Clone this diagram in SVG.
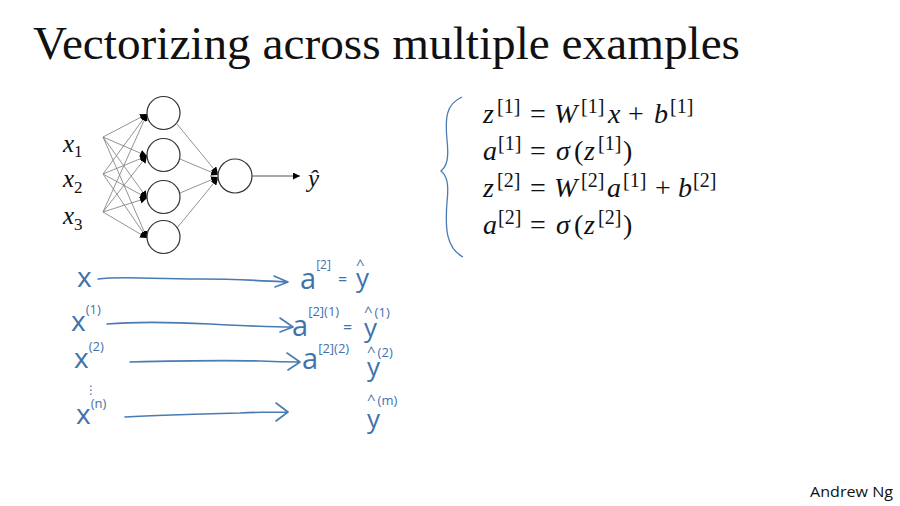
<svg xmlns="http://www.w3.org/2000/svg" width="900" height="506" viewBox="0 0 900 506">
<defs>
<marker id="ah" viewBox="0 0 10 10" refX="10" refY="5" markerWidth="7" markerHeight="7" orient="auto" markerUnits="userSpaceOnUse"><path d="M0,0 L10,5 L0,10 z" fill="#000"/></marker>
<style>
.title{font-family:"Liberation Serif",serif;font-size:46px;fill:#111}
.node{fill:#fff;stroke:#333;stroke-width:1.2}
.edge{stroke:#888;stroke-width:0.9;fill:none}
.math{font-family:"Liberation Serif","DejaVu Serif",serif;font-size:25px;fill:#111}
.eq{font-family:"Liberation Serif","DejaVu Serif",serif;font-size:28px;fill:#111}
.it{font-style:italic}
.sup{font-size:17px;font-style:normal}
.es{font-size:20px;font-style:normal}
.hand{font-family:"Open Sans","DejaVu Sans",sans-serif;fill:#3f73ad}
.hw{stroke:#4a7bb3;stroke-width:1.6;fill:none;stroke-linecap:round;stroke-linejoin:round}
.sig{font-family:"Open Sans","Liberation Sans",sans-serif;font-size:14px;fill:#111}
</style>
</defs>
<rect width="900" height="506" fill="#fff"/>
<text class="title" x="33" y="59" textLength="707" lengthAdjust="spacingAndGlyphs">Vectorizing across multiple examples</text>

<g id="connectors">
<line class="edge" x1="103" y1="137" x2="147" y2="114" marker-end="url(#ah)"/>
<line class="edge" x1="103" y1="137" x2="147" y2="156" marker-end="url(#ah)"/>
<line class="edge" x1="103" y1="137" x2="147" y2="198" marker-end="url(#ah)"/>
<line class="edge" x1="103" y1="137" x2="147" y2="238" marker-end="url(#ah)"/>
<line class="edge" x1="103" y1="174" x2="147" y2="114" marker-end="url(#ah)"/>
<line class="edge" x1="103" y1="174" x2="147" y2="156" marker-end="url(#ah)"/>
<line class="edge" x1="103" y1="174" x2="147" y2="198" marker-end="url(#ah)"/>
<line class="edge" x1="103" y1="174" x2="147" y2="238" marker-end="url(#ah)"/>
<line class="edge" x1="103" y1="212" x2="147" y2="114" marker-end="url(#ah)"/>
<line class="edge" x1="103" y1="212" x2="147" y2="156" marker-end="url(#ah)"/>
<line class="edge" x1="103" y1="212" x2="147" y2="198" marker-end="url(#ah)"/>
<line class="edge" x1="103" y1="212" x2="147" y2="238" marker-end="url(#ah)"/>
<line class="edge" x1="177" y1="124" x2="218" y2="174" marker-end="url(#ah)"/>
<line class="edge" x1="180" y1="159" x2="218" y2="175" marker-end="url(#ah)"/>
<line class="edge" x1="180" y1="193" x2="218" y2="177" marker-end="url(#ah)"/>
<line class="edge" x1="177" y1="228" x2="218" y2="178" marker-end="url(#ah)"/>
<line x1="252" y1="176" x2="300" y2="176" stroke="#555" stroke-width="1" marker-end="url(#ah)"/>
</g>

<g id="x1"><text class="math it" x="63" y="152">x<tspan class="sup" dy="5">1</tspan></text></g>
<g id="x2"><text class="math it" x="63" y="187">x<tspan class="sup" dy="6">2</tspan></text></g>
<g id="x3"><text class="math it" x="63" y="224">x<tspan class="sup" dy="6">3</tspan></text></g>
<g id="h1"><circle class="node" cx="163.5" cy="113" r="16.5"/></g>
<g id="h2"><circle class="node" cx="163.5" cy="155" r="16.5"/></g>
<g id="h3"><circle class="node" cx="163.5" cy="197" r="16.5"/></g>
<g id="h4"><circle class="node" cx="163.5" cy="237" r="16.5"/></g>
<g id="out"><circle class="node" cx="235" cy="176" r="17"/></g>
<g id="yhat"><text class="math it" x="308" y="187" font-size="26">ŷ</text></g>

<g id="equations">
<path d="M462,97 C446,104 445,118 447,140 C449,158 447,166 441,171 C447,176 449,184 447,202 C445,228 446,248 463,257" stroke="#4a7bb3" stroke-width="1.3" fill="none"/>
<text class="eq" y="123"><tspan class="it" x="483">z</tspan><tspan class="es" x="497" dy="-10">[1]</tspan><tspan x="530" dy="10">=</tspan><tspan class="it" x="554">W</tspan><tspan class="es" x="581" dy="-10">[1]</tspan><tspan class="it" x="608" dy="10">x</tspan><tspan x="628">+</tspan><tspan class="it" x="654">b</tspan><tspan class="es" x="670" dy="-10">[1]</tspan></text>
<text class="eq" y="160"><tspan class="it" x="483">a</tspan><tspan class="es" x="498" dy="-10">[1]</tspan><tspan x="530" dy="10">=</tspan><tspan class="it" x="556">σ</tspan><tspan x="574">(</tspan><tspan class="it" x="584">z</tspan><tspan class="es" x="598" dy="-10">[1]</tspan><tspan x="623" dy="10">)</tspan></text>
<text class="eq" y="197"><tspan class="it" x="483">z</tspan><tspan class="es" x="497" dy="-10">[2]</tspan><tspan x="530" dy="10">=</tspan><tspan class="it" x="554">W</tspan><tspan class="es" x="581" dy="-10">[2]</tspan><tspan class="it" x="607" dy="10">a</tspan><tspan class="es" x="623" dy="-10">[1]</tspan><tspan x="655" dy="10">+</tspan><tspan class="it" x="678">b</tspan><tspan class="es" x="693" dy="-10">[2]</tspan></text>
<text class="eq" y="234"><tspan class="it" x="483">a</tspan><tspan class="es" x="498" dy="-10">[2]</tspan><tspan x="530" dy="10">=</tspan><tspan class="it" x="556">σ</tspan><tspan x="574">(</tspan><tspan class="it" x="584">z</tspan><tspan class="es" x="598" dy="-10">[2]</tspan><tspan x="623" dy="10">)</tspan></text>
</g>

<g id="handwriting">
<path class="hw" d="M98,279 C120,276 150,279 200,279 C240,279 265,281 288,282 M274,276 L288,282 L275,287"/>
<path class="hw" d="M107,324 C130,322 170,322 210,324 C250,326 270,327 292,327 M280,318 L293,327 L280,332"/>
<path class="hw" d="M130,362 C170,361 220,360 260,361 C280,362 290,362 300,362 M287,353 L300,362 L288,370"/>
<path class="hw" d="M125,417 C160,415 200,414 240,413 C260,412 275,412 288,412 M276,403 L288,412 L276,421"/>

<text class="hand" x="77" y="287" font-size="28">x</text>
<text class="hand" x="300" y="289" font-size="29">a<tspan font-size="12" dy="-20">[2]</tspan></text>
<text class="hand" x="338" y="285" font-size="16">=</text>
<text class="hand" x="356" y="287" font-size="26">y<tspan font-size="15" dx="-13" dy="-17">^</tspan></text>

<text class="hand" x="71" y="331" font-size="28">x<tspan font-size="13" dy="-17">(1)</tspan></text>
<text class="hand" x="292" y="336" font-size="29">a<tspan font-size="13" dy="-20">[2](1)</tspan></text>
<text class="hand" x="343" y="333" font-size="16">=</text>
<text class="hand" x="364" y="337" font-size="26">y<tspan font-size="15" dx="-13" dy="-20">^</tspan><tspan font-size="13" dx="2" dy="0">(1)</tspan></text>

<text class="hand" x="74" y="368" font-size="28">x<tspan font-size="13" dy="-17">(2)</tspan></text>
<text class="hand" x="302" y="369" font-size="29">a<tspan font-size="13" dy="-16">[2](2)</tspan></text>
<text class="hand" x="367" y="376" font-size="26">y<tspan font-size="15" dx="-13" dy="-19">^</tspan><tspan font-size="13" dx="2" dy="0">(2)</tspan></text>

<text class="hand" x="85" y="394" font-size="12">⋮</text>

<text class="hand" x="76" y="424" font-size="28">x<tspan font-size="13" dy="-16">(n)</tspan></text>
<text class="hand" x="367" y="428" font-size="26">y<tspan font-size="15" dx="-13" dy="-23">^</tspan><tspan font-size="13" dx="2" dy="0">(m)</tspan></text>
</g>

<text class="sig" x="810" y="497" textLength="83" lengthAdjust="spacingAndGlyphs">Andrew Ng</text>
</svg>
